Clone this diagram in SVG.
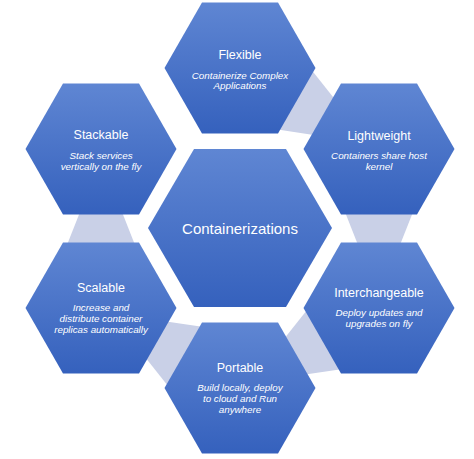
<svg xmlns="http://www.w3.org/2000/svg" width="474" height="459" viewBox="0 0 474 459">
  <defs>
    <linearGradient id="hexGrad" x1="0" y1="0" x2="0" y2="1">
      <stop offset="0" stop-color="#5f86d3"/>
      <stop offset="1" stop-color="#3561bd"/>
    </linearGradient>
    <polygon id="hexOuter" points="-75.5,0 -38,-65.5 38,-65.5 75.5,0 38,65.5 -38,65.5"/>
  </defs>
  <style>
    .hex { fill: url(#hexGrad); }
    .conn { fill: #c9d0e7; }
    .title { font-family: "Liberation Sans", Arial, sans-serif; font-size: 12.5px; fill: #ffffff; text-anchor: middle; }
    .sub { font-family: "Liberation Sans", Arial, sans-serif; font-size: 9.8px; font-style: italic; fill: #ffffff; text-anchor: middle; }
    .main { font-family: "Liberation Sans", Arial, sans-serif; font-size: 15px; fill: #ffffff; text-anchor: middle; }
  </style>
  <rect width="474" height="459" fill="#ffffff"/>

  <g id="connectors">
    <polygon class="conn" points="274.4,129.0 310.0,67.9 336.6,101.6 316.9,135.5"/>
    <polygon class="conn" points="343.6,208.5 414.4,208.5 398.6,248.5 359.4,248.5"/>
    <polygon class="conn" points="309.2,307.3 344.5,368.7 301.9,375.0 282.4,341.0"/>
    <polygon class="conn" points="205.5,327.3 170.2,388.7 143.4,355.0 162.9,321.0"/>
    <polygon class="conn" points="136.4,248.5 65.6,248.5 81.4,208.5 120.6,208.5"/>
  </g>

  <g id="node-center">
    <polygon class="hex" points="148,228 194,149 286,149 332,228 286,307 194,307"/>
    <text class="main" x="240" y="233.5">Containerizations</text>
  </g>

  <g id="node-flexible">
    <use href="#hexOuter" class="hex" x="240" y="68"/>
    <text class="title" x="240" y="59">Flexible</text>
    <text class="sub" x="240" y="78.5">Containerize Complex</text>
    <text class="sub" x="240" y="89">Applications</text>
  </g>

  <g id="node-lightweight">
    <use href="#hexOuter" class="hex" x="379" y="149"/>
    <text class="title" x="379" y="139.5">Lightweight</text>
    <text class="sub" x="379" y="159">Containers share host</text>
    <text class="sub" x="379" y="169.5">kernel</text>
  </g>

  <g id="node-interchangeable">
    <use href="#hexOuter" class="hex" x="379" y="308"/>
    <text class="title" x="379" y="297">Interchangeable</text>
    <text class="sub" x="379" y="316">Deploy updates and</text>
    <text class="sub" x="379" y="327">upgrades on fly</text>
  </g>

  <g id="node-portable">
    <use href="#hexOuter" class="hex" x="240" y="388"/>
    <text class="title" x="240" y="372">Portable</text>
    <text class="sub" x="240" y="391">Build locally, deploy</text>
    <text class="sub" x="240" y="402">to cloud and Run</text>
    <text class="sub" x="240" y="413">anywhere</text>
  </g>

  <g id="node-scalable">
    <use href="#hexOuter" class="hex" x="101" y="308"/>
    <text class="title" x="101" y="292">Scalable</text>
    <text class="sub" x="101" y="310.5">Increase and</text>
    <text class="sub" x="101" y="321.5">distribute container</text>
    <text class="sub" x="101" y="332.5">replicas automatically</text>
  </g>

  <g id="node-stackable">
    <use href="#hexOuter" class="hex" x="101" y="149"/>
    <text class="title" x="101" y="139">Stackable</text>
    <text class="sub" x="101" y="159">Stack services</text>
    <text class="sub" x="101" y="169.5">vertically on the fly</text>
  </g>
</svg>
